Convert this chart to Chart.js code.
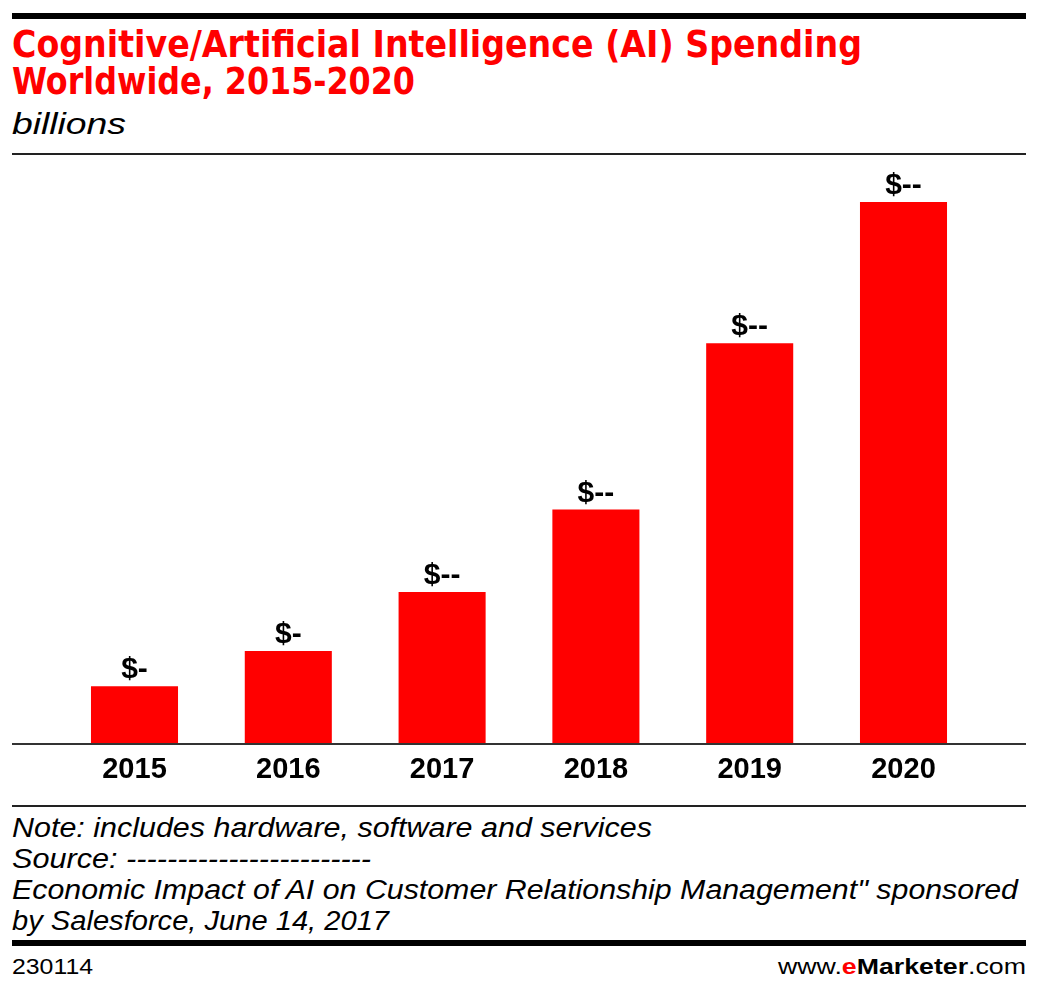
<!DOCTYPE html>
<html>
<head>
<meta charset="utf-8">
<script src="https://cdn.jsdelivr.net/npm/chart.js@4/dist/chart.umd.min.js"></script>
<style>
  html, body { margin: 0; padding: 0; background: #fff; }
  body { width: 1038px; height: 993px; position: relative; overflow: hidden; }
  .rule { position: absolute; left: 12px; width: 1014px; background: #000; }
  .txt { position: absolute; white-space: nowrap; transform-origin: 0 0; }
  .title { color: #ff0000; font-family: "Liberation Sans Narrow", "DejaVu Sans Condensed", "Liberation Sans", sans-serif; font-weight: bold; font-size: 38px; line-height: 38px; left: 12px; }
  .sub { font-family: "Liberation Sans", sans-serif; font-style: italic; font-size: 30px; line-height: 30px; left: 12px; color: #000; }
  .foot { font-family: "Liberation Sans", sans-serif; font-style: italic; font-size: 27px; line-height: 27px; left: 12px; color: #000; }
  .small { font-family: "Liberation Sans", sans-serif; font-size: 22px; line-height: 22px; color: #000; }
  #wrap { position: absolute; left: 0; top: 160px; width: 1038px; height: 640px; }
</style>
</head>
<body>
<div class="rule" style="top:13px;height:6px;"></div>
<div class="txt title" data-w="850" style="top:25px;">Cognitive/Artificial Intelligence (AI) Spending</div>
<div class="txt title" data-w="403" style="top:62px;">Worldwide, 2015-2020</div>
<div class="txt sub" data-w="114" style="top:109px;">billions</div>
<div class="rule" style="top:153px;height:2px;background:#222;"></div>

<div id="wrap"><canvas id="c" width="1038" height="640"></canvas></div>

<div class="rule" style="top:805px;height:2px;background:#222;"></div>
<div class="txt foot" data-w="640" style="top:815px;">Note: includes hardware, software and services</div>
<div class="txt foot" data-w="359" style="top:846px;">Source: ------------------------</div>
<div class="txt foot" data-w="1006" style="top:877px;">Economic Impact of AI on Customer Relationship Management" sponsored</div>
<div class="txt foot" data-w="377" style="top:908px;">by Salesforce, June 14, 2017</div>
<div class="rule" style="top:940px;height:6px;"></div>
<div class="txt small" data-w="81" style="left:12px;top:956px;">230114</div>
<div class="txt small" id="brand" data-w="248" style="left:778px;top:956px;">www.<span style="color:#ff0000;font-weight:bold;">e</span><span style="font-weight:bold;">Marketer</span>.com</div>

<script>
// Fit text lines horizontally to the reference widths
document.querySelectorAll('.txt[data-w]').forEach(function (el) {
  var w = el.getBoundingClientRect().width;
  var target = parseFloat(el.getAttribute('data-w'));
  if (w > 0) el.style.transform = 'scaleX(' + (target / w) + ')';
});

// ---- Data ----
const years = ['2015', '2016', '2017', '2018', '2019', '2020'];
const spending = [4.9, 7.9, 12.9, 19.9, 34.0, 46.0]; // billions (estimated)
const valueLabels = ['$-', '$-', '$--', '$--', '$--', '$--'];

const barLabelPlugin = {
  id: 'barLabels',
  afterDatasetsDraw(chart) {
    const ctx = chart.ctx;
    const meta = chart.getDatasetMeta(0);
    ctx.save();
    ctx.fillStyle = '#000';
    ctx.font = 'bold 30px "Liberation Sans", sans-serif';
    ctx.textAlign = 'center';
    ctx.textBaseline = 'alphabetic';
    meta.data.forEach(function (bar, i) {
      ctx.fillText(valueLabels[i], bar.x, bar.y - 8);
    });
    // baseline rule across full width
    const y0 = chart.scales.y.getPixelForValue(0);
    ctx.fillStyle = '#333';
    ctx.fillRect(12, Math.round(y0) - 1, 1014, 2);
    ctx.restore();
  }
};

new Chart(document.getElementById('c'), {
  type: 'bar',
  data: {
    labels: years,
    datasets: [{
      data: spending,
      backgroundColor: '#ff0000',
      borderWidth: 0,
      barPercentage: 0.566,
      categoryPercentage: 1.0
    }]
  },
  options: {
    responsive: false,
    animation: false,
    events: [],
    layout: { padding: { left: 57.6, right: 57.6, top: 18.4, bottom: 0 } },
    plugins: { legend: { display: false }, tooltip: { enabled: false } },
    scales: {
      x: {
        grid: { display: false, drawTicks: false },
        border: { display: false },
        afterFit: function (scale) { scale.height = 56; },
        ticks: {
          color: '#000',
          padding: 8.6,
          font: { family: '"Liberation Sans", sans-serif', weight: 'bold', size: 29 }
        }
      },
      y: {
        display: false,
        min: 0,
        max: 48
      }
    }
  },
  plugins: [barLabelPlugin]
});
</script>
</body>
</html>
